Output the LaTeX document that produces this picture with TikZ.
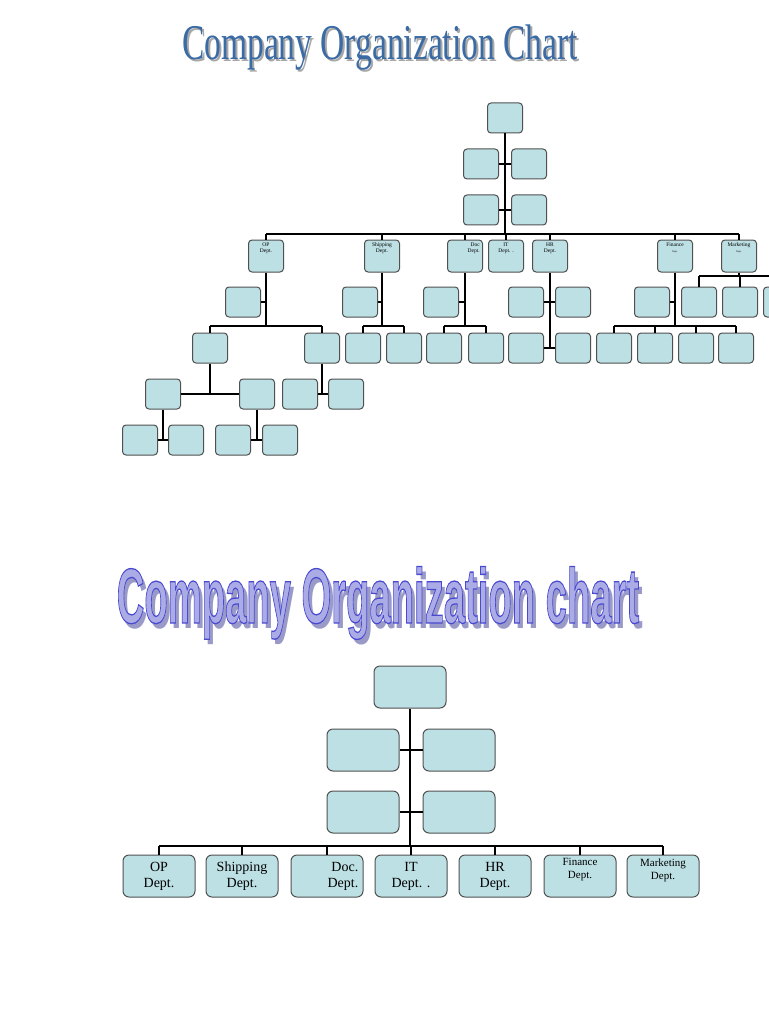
\documentclass[tikz,border=0pt]{standalone}
\usepackage{fontspec}
\setmainfont{Liberation Serif}
\newfontfamily\titsans{Liberation Sans}
\definecolor{boxfill}{HTML}{BDE0E4}
\definecolor{boxline}{HTML}{505050}
\definecolor{titblue}{HTML}{3A6BA5}
\definecolor{titshadow}{HTML}{A8A8A8}
\definecolor{lav}{HTML}{ABABE6}
\definecolor{lavline}{HTML}{4A4AD0}
\definecolor{lavshadow}{HTML}{9A9AC8}
\tikzset{
  sbox/.style={draw=boxline,fill=boxfill,line width=1pt,rounded corners=3.5pt,minimum width=35pt,minimum height=30pt,inner sep=0pt},
  bbox/.style={draw=boxline,fill=boxfill,line width=1pt,rounded corners=6pt,minimum width=72pt,minimum height=42pt,inner sep=0pt},
  conn/.style={line width=1.8pt,black},
  tiny/.style={font=\fontsize{5.5}{6}\selectfont,align=center,inner sep=0pt},
  mid/.style={font=\fontsize{14}{16}\selectfont,align=center,inner sep=0pt}
}
\begin{document}
\begin{tikzpicture}[x=1pt,y=-1pt]
\useasboundingbox (0,0) rectangle (768,1024);
% ---------- top title ----------
\node (t1s) at (382,50) {\fontsize{50}{50}\selectfont\color{titshadow}\scalebox{0.67}[1]{Company Organization Chart}};
\node (t1) at (380,48) {\fontsize{50}{50}\selectfont\color{titblue}\scalebox{0.67}[1]{Company Organization Chart}};
% ---------- top chart ----------
\node[sbox] (root) at (505,118) {};
\node[sbox] (a1) at (481,164) {};
\node[sbox] (a2) at (529,164) {};
\node[sbox] (b1) at (481,210) {};
\node[sbox] (b2) at (529,210) {};
\foreach \n/\x in {op/266,sh/382,doc/465,it/506,hr/550,fin/675,mkt/739}
  \node[sbox,minimum height=32pt] (\n) at (\x,256) {};
\node[tiny,anchor=north] at (op.north) [yshift=-3pt] {OP\\Dept.};
\node[tiny,anchor=north] at (sh.north) [yshift=-3pt] {Shipping\\Dept.};
\node[tiny,anchor=north east,align=right] at (doc.north east) [xshift=-3pt,yshift=-3pt] {Doc\\Dept.};
\node[tiny,anchor=north] at (it.north) [yshift=-3pt] {IT\\Dept. .};
\node[tiny,anchor=north] at (hr.north) [yshift=-3pt] {HR\\Dept.};
\node[tiny,anchor=north] at (fin.north) [yshift=-3pt] {Finance\\{\fontsize{2.5}{3}\selectfont Dept.}};
\node[tiny,anchor=north] at (mkt.north) [yshift=-3pt] {Marketing\\{\fontsize{2.5}{3}\selectfont Dept.}};
% row 2
\foreach \n/\x in {op2/243,sh2/360,doc2/441,hra/526,hrb/573,fin2/652,mka/699,mkb/740,mkc/781}
  \node[sbox] (\n) at (\x,302) {};
% row 3
\foreach \n/\x in {opa/210,opb/322,sha/363,shb/404,doca/444,docb/486,hrc/526,hrd/573,fa/614,fb/655,fc/696,fd/736}
  \node[sbox] (\n) at (\x,348) {};
% row 4
\foreach \n/\x in {opc/163,opd/257,ope/300,opf/346}
  \node[sbox] (\n) at (\x,394) {};
% row 5
\foreach \n/\x in {opg/140,oph/186,opi/233,opj/280}
  \node[sbox] (\n) at (\x,440) {};
% connectors top
\coordinate (bus) at (505,234);
\draw[conn] (root.south) -- (bus);
\draw[conn] (a1.east) -- (a2.west);
\draw[conn] (b1.east) -- (b2.west);
\draw[conn] (op.north |- bus) -- (mkt.north |- bus);
\foreach \n in {op,sh,doc,it,hr,fin,mkt} \draw[conn] (\n.north |- bus) -- (\n.north);
% OP branch
\coordinate (opbus) at (266,326);
\draw[conn] (op.south) -- (opbus);
\draw[conn] (op2.east) -- (op2.east -| opbus);
\draw[conn] (opa.north |- opbus) -- (opb.north |- opbus);
\draw[conn] (opa.north |- opbus) -- (opa.north);
\draw[conn] (opb.north |- opbus) -- (opb.north);
\draw[conn] (opa.south) -- (opa.south |- opc.east);
\draw[conn] (opc.east) -- (opd.west);
\draw[conn] (opb.south) -- (opb.south |- ope.east);
\draw[conn] (ope.east) -- (opf.west);
\draw[conn] (opc.south) -- (opc.south |- opg.east);
\draw[conn] (opg.east) -- (oph.west);
\draw[conn] (opd.south) -- (opd.south |- opi.east);
\draw[conn] (opi.east) -- (opj.west);
% Shipping
\coordinate (shbus) at (382,326);
\draw[conn] (sh.south) -- (shbus);
\draw[conn] (sh2.east) -- (sh2.east -| shbus);
\draw[conn] (sha.north |- shbus) -- (shb.north |- shbus);
\draw[conn] (sha.north |- shbus) -- (sha.north);
\draw[conn] (shb.north |- shbus) -- (shb.north);
% Doc
\coordinate (docbus) at (465,326);
\draw[conn] (doc.south) -- (docbus);
\draw[conn] (doc2.east) -- (doc2.east -| docbus);
\draw[conn] (doca.north |- docbus) -- (docb.north |- docbus);
\draw[conn] (doca.north |- docbus) -- (doca.north);
\draw[conn] (docb.north |- docbus) -- (docb.north);
% HR
\draw[conn] (hr.south) -- (hr.south |- hrc.east);
\draw[conn] (hra.east) -- (hrb.west);
\draw[conn] (hrc.east) -- (hrd.west);
% Finance
\coordinate (finbus) at (675,326);
\draw[conn] (fin.south) -- (finbus);
\draw[conn] (fin2.east) -- (fin2.east -| finbus);
\draw[conn] (fa.north |- finbus) -- (fd.north |- finbus);
\foreach \n in {fa,fb,fc,fd} \draw[conn] (\n.north |- finbus) -- (\n.north);
% Marketing
\coordinate (mkbus) at (739,276);
\draw[conn] (mkt.south) -- (mkbus);
\draw[conn] (mka.north |- mkbus) -- (mkc.north |- mkbus);
\foreach \n in {mka,mkb,mkc} \draw[conn] (\n.north |- mkbus) -- (\n.north);
% ---------- bottom title ----------
\node[lavshadow] (t2s) at (382,608) {\fontsize{78}{78}\selectfont\titsans\bfseries\scalebox{0.49}[1]{Company Organization chart}};
\node (t2) at (378,603) {\fontsize{78}{78}\selectfont\titsans\bfseries\color{lav}\special{pdf:literal direct 2 Tr 1.3 w 0.29 0.29 0.82 RG}\scalebox{0.49}[1]{Company Organization chart}\special{pdf:literal direct 0 Tr}};
% ---------- bottom chart ----------
\node[bbox] (Root) at (410,687) {};
\node[bbox] (A1) at (363,750) {};
\node[bbox] (A2) at (459,750) {};
\node[bbox] (B1) at (363,812) {};
\node[bbox] (B2) at (459,812) {};
\foreach \n/\x in {OP/159,SH/242,DOC/327,IT/411,HR/495,FIN/580,MKT/663}
  \node[bbox] (\n) at (\x,876) {};
\node[mid] at (OP) {OP\\Dept.};
\node[mid] at (SH) {Shipping\\Dept.};
\node[mid,anchor=east,align=right] at ([xshift=-5pt]DOC.east) {Doc.\\Dept.};
\node[mid] at (IT) {IT\\Dept. .};
\node[mid] at (HR) {HR\\Dept.};
\node[font=\fontsize{11}{13}\selectfont,align=center,inner sep=0pt,anchor=north] at ([yshift=-4pt]FIN.north) {Finance\\Dept.};
\node[font=\fontsize{11}{13}\selectfont,align=center,inner sep=0pt,anchor=north] at ([yshift=-4pt]MKT.north) {Marketing\\Dept.};
\coordinate (Bus) at (410,846);
\draw[conn,line width=1.5pt] (Root.south) -- (Bus);
\draw[conn,line width=1.5pt] (A1.east) -- (A2.west);
\draw[conn,line width=1.5pt] (B1.east) -- (B2.west);
\draw[conn,line width=1.5pt] (OP.north |- Bus) -- (MKT.north |- Bus);
\foreach \n in {OP,SH,DOC,IT,HR,FIN,MKT} \draw[conn,line width=1.5pt] (\n.north |- Bus) -- (\n.north);
\end{tikzpicture}
\end{document}
